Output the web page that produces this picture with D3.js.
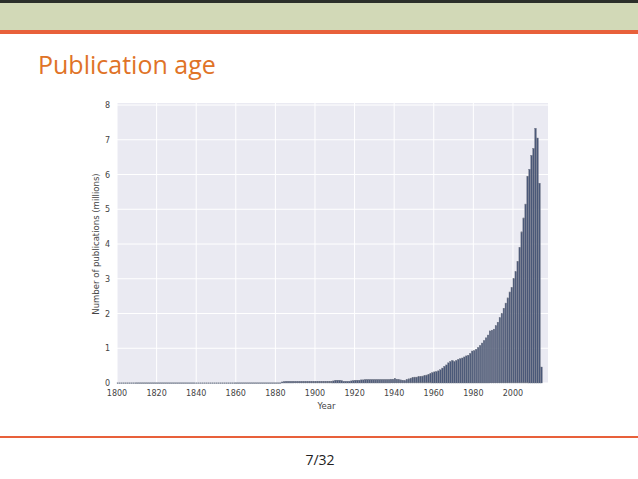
<!DOCTYPE html>
<html>
<head>
<meta charset="UTF-8">
<style>
  body { margin: 0; background: #fff; }
  text { font-family: "DejaVu Sans", sans-serif; }
</style>
</head>
<body>
<svg id="slide" width="638" height="479"></svg>
<script src="https://d3js.org/d3.v7.min.js"></script>
<script>
// publications per year, millions (1800..2016)
const firstYear = 1800;
const values = [
  // 1800-1882: near zero
  .005,.005,.005,.005,.005,.005,.005,.005,.005,.005,.005,.005,.005,.005,.005,.005,.005,.005,.005,.005,
  .005,.005,.005,.005,.005,.005,.005,.005,.005,.005,.005,.005,.005,.005,.005,.005,.005,.005,.005,.005,
  .005,.005,.005,.005,.005,.005,.005,.005,.005,.005,.005,.005,.005,.005,.005,.005,.005,.005,.005,.005,
  .005,.005,.005,.005,.005,.005,.005,.005,.005,.005,.005,.005,.005,.005,.005,.005,.005,.005,.005,.005,
  .005,.005,.005,
  // 1883-1919
  .03,.04,.05,.05,.05,.05,.05,.05,.05,.05,.05,.05,.05,.05,.05,.05,.05,.05,.05,.05,
  .05,.05,.05,.05,.05,.05,.06,.08,.08,.08,.07,.05,.05,.05,.05,.06,.07,
  // 1920-1944
  .08,.08,.08,.09,.09,.1,.1,.1,.1,.1,.1,.1,.1,.1,.1,.1,.1,.1,.11,.11,
  .13,.11,.1,.09,.08,
  // 1945-1959
  .07,.1,.12,.14,.16,.17,.17,.18,.19,.2,.21,.23,.25,.27,.3,
  // 1960-1989
  .32,.33,.35,.38,.43,.48,.52,.58,.62,.65,.62,.65,.68,.7,.72,.75,.78,.8,.85,.92,
  .93,.97,1.02,1.08,1.15,1.22,1.3,1.38,1.5,1.52,
  // 1990-2016
  1.55,1.65,1.75,1.88,2.0,2.15,2.3,2.45,2.62,2.75,3.0,3.2,3.5,3.9,4.35,4.75,5.15,5.95,6.15,6.55,
  6.75,7.33,7.05,5.75,0.46
];
const years = values.map((v, i) => firstYear + i);
const xTicks = [1800, 1820, 1840, 1860, 1880, 1900, 1920, 1940, 1960, 1980, 2000];
const yTicks = [0, 1, 2, 3, 4, 5, 6, 7, 8];

const svg = d3.select("#slide");

// slide header / footer
svg.append("rect").attr("x", 0).attr("y", 0).attr("width", 638).attr("height", 3).attr("fill", "#2b2f2a");
svg.append("rect").attr("x", 0).attr("y", 3).attr("width", 638).attr("height", 27).attr("fill", "#d2d9b7");
svg.append("rect").attr("x", 0).attr("y", 30).attr("width", 638).attr("height", 4).attr("fill", "#e8603a");
svg.append("text").attr("x", 38).attr("y", 74)
  .style("font-family", "'Open Sans', Lato, sans-serif").style("font-size", "25px")
  .attr("fill", "#e07327").text("Publication age");
svg.append("rect").attr("x", 0).attr("y", 436).attr("width", 638).attr("height", 2).attr("fill", "#e8603a");
svg.append("text").attr("x", 320).attr("y", 465).attr("text-anchor", "middle")
  .style("font-family", "'Open Sans', Lato, sans-serif").style("font-size", "14px")
  .attr("fill", "#222").text("7/32");

// chart
const pLeft = 117, pRight = 548, pTop = 105, pBottom = 383;
const x = d3.scaleLinear().domain([1800, 2017.7]).range([pLeft, pRight]);
const y = d3.scaleLinear().domain([0, 8]).range([pBottom, pTop]);

svg.append("rect").attr("x", pLeft).attr("y", pTop - 2)
  .attr("width", pRight - pLeft).attr("height", pBottom - pTop + 2).attr("fill", "#eaeaf2");

const g = svg.append("g");
g.selectAll("line.vg").data(xTicks).enter().append("line")
  .attr("x1", d => x(d)).attr("x2", d => x(d)).attr("y1", pTop - 2).attr("y2", pBottom)
  .attr("stroke", "#fff").attr("stroke-width", 1);
g.selectAll("line.hg").data(yTicks).enter().append("line")
  .attr("x1", pLeft).attr("x2", pRight).attr("y1", d => y(d)).attr("y2", d => y(d))
  .attr("stroke", "#fff").attr("stroke-width", 1);

const bw = (x(1801) - x(1800)) * 0.8;
g.selectAll("rect.bar").data(values).enter().append("rect")
  .attr("x", (d, i) => x(years[i]))
  .attr("y", d => y(d))
  .attr("width", bw)
  .attr("height", d => Math.max(0.6, y(0) - y(d)))
  .attr("fill", "#4a5878")
  .attr("stroke", "#6c7282").attr("stroke-width", 0.4);

svg.selectAll("text.xt").data(xTicks).enter().append("text")
  .attr("x", d => x(d)).attr("y", pBottom + 13).attr("text-anchor", "middle")
  .style("font-size", "8px").attr("fill", "#444").text(d => d);
svg.selectAll("text.yt").data(yTicks).enter().append("text")
  .attr("x", pLeft - 7).attr("y", d => y(d) + 3).attr("text-anchor", "end")
  .style("font-size", "8px").attr("fill", "#444").text(d => d);

svg.append("text").attr("x", (pLeft + pRight) / 2 - 6).attr("y", pBottom + 26)
  .attr("text-anchor", "middle").style("font-size", "8.5px").attr("fill", "#444").text("Year");
svg.append("text").attr("transform", `translate(99,${(pTop + pBottom) / 2}) rotate(-90)`)
  .attr("text-anchor", "middle").style("font-size", "8.5px").attr("fill", "#444")
  .text("Number of publications (millions)");
</script>
</body>
</html>
